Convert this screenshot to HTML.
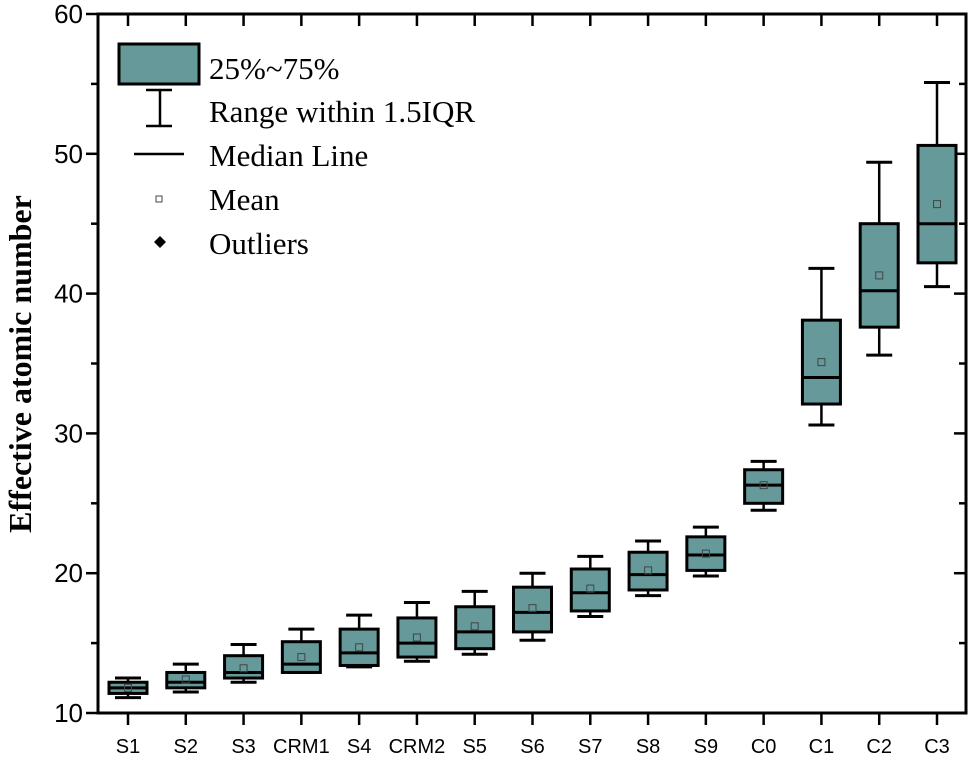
<!DOCTYPE html>
<html><head><meta charset="utf-8"><style>
body{margin:0;background:#fff}
svg{display:block}
</style></head><body>
<svg id="chart" width="969" height="758" xmlns="http://www.w3.org/2000/svg">
<g id="axes"></g>
<g id="boxes"></g>
<g id="legend">
<rect x="119" y="44" width="80" height="40" fill="#669999" stroke="#000" stroke-width="3"/>
<g stroke="#000" stroke-width="2.5"><line x1="160" y1="90" x2="160" y2="126"/><line x1="146" y1="90" x2="172" y2="90"/><line x1="146" y1="126" x2="172" y2="126"/></g>
<line x1="134" y1="154" x2="184" y2="154" stroke="#000" stroke-width="2.5"/>
<rect x="156" y="196" width="6" height="6" fill="#fff" stroke="#444" stroke-width="1"/>
<path d="M160 236 L166 242 L160 248 L154 242 Z" fill="#000"/>
<g font-family="'Liberation Serif',serif" font-size="31" fill="#000">
<text x="209" y="79">25%~75%</text>
<text x="209" y="122">Range within 1.5IQR</text>
<text x="209" y="166">Median Line</text>
<text x="209" y="210">Mean</text>
<text x="209" y="254">Outliers</text>
</g></g>
<text transform="translate(31,364) rotate(-90)" text-anchor="middle" font-family="'Liberation Serif',serif" font-weight="bold" font-size="32">Effective atomic number</text>
</svg>
<script>
const categories=["S1","S2","S3","CRM1","S4","CRM2","S5","S6","S7","S8","S9","C0","C1","C2","C3"];
const whiskerLow=[11.1,11.5,12.2,12.9,13.3,13.7,14.2,15.2,16.9,18.4,19.8,24.5,30.6,35.6,40.5];
const q1=[11.4,11.8,12.5,12.9,13.4,14.0,14.6,15.8,17.3,18.8,20.2,25.0,32.1,37.6,42.2];
const medians=[11.8,12.2,12.9,13.5,14.3,15.0,15.8,17.2,18.6,19.9,21.3,26.3,34.0,40.2,45.0];
const means=[11.8,12.4,13.2,14.0,14.7,15.4,16.2,17.5,18.9,20.2,21.4,26.3,35.1,41.3,46.4];
const q3=[12.2,12.9,14.1,15.1,16.0,16.8,17.6,19.0,20.3,21.5,22.6,27.4,38.1,45.0,50.6];
const whiskerHigh=[12.5,13.5,14.9,16.0,17.0,17.9,18.7,20.0,21.2,22.3,23.3,28.0,41.8,49.4,55.1];
const yTicks=[10,20,30,40,50,60];
const NS="http://www.w3.org/2000/svg";
const L=98,R=966,T=14,B=713,yMin=10,yMax=60;
function y(v){return B-(v-yMin)/(yMax-yMin)*(B-T);}
function x(i){return 128+i*(937-128)/(categories.length-1);}
function mk(tag,attrs,parent){const e=document.createElementNS(NS,tag);for(const k in attrs)e.setAttribute(k,attrs[k]);parent.appendChild(e);return e;}
const ax=document.getElementById('axes');
let f=mk('rect',{x:L,y:T,width:R-L,height:B-T,fill:'none',stroke:'#000','stroke-width':3},ax);


for(let v=10;v<=60;v+=5){
  const len=v%10===0?12:7;
  let t=mk('line',{x1:L-len,x2:L,y1:y(v),y2:y(v),stroke:'#000','stroke-width':2.5},ax);
  
  
  let t2=mk('line',{x1:R,x2:R-len,y1:y(v),y2:y(v),stroke:'#000','stroke-width':2.5},ax);
  
  
}
yTicks.forEach(v=>{
  let t=mk('text',{x:L-15,y:y(v)+9,'text-anchor':'end','font-family':"'Liberation Sans',sans-serif",'font-size':26},ax);
  t.textContent=v;
  
  
});
categories.forEach((c,i)=>{
  let t=mk('line',{x1:x(i),x2:x(i),y1:B,y2:B+12,stroke:'#000','stroke-width':2.5},ax);
  
  
  let t2=mk('line',{x1:x(i),x2:x(i),y1:T,y2:T+12,stroke:'#000','stroke-width':2.5},ax);
  
  
  let l=mk('text',{x:x(i),y:B+40,'text-anchor':'middle','font-family':"'Liberation Sans',sans-serif",'font-size':20},ax);
  l.textContent=c;
  
  
});
const bx=document.getElementById('boxes');
const hw=19,cw=13;
categories.forEach((c,i)=>{
  const g=mk('g',{},bx);
  
  
  const cx=x(i);
  mk('line',{x1:cx,x2:cx,y1:y(whiskerHigh[i]),y2:y(q3[i]),stroke:'#000','stroke-width':2.5},g);
  mk('line',{x1:cx,x2:cx,y1:y(q1[i]),y2:y(whiskerLow[i]),stroke:'#000','stroke-width':2.5},g);
  mk('line',{x1:cx-cw,x2:cx+cw,y1:y(whiskerHigh[i]),y2:y(whiskerHigh[i]),stroke:'#000','stroke-width':3},g);
  mk('line',{x1:cx-cw,x2:cx+cw,y1:y(whiskerLow[i]),y2:y(whiskerLow[i]),stroke:'#000','stroke-width':3},g);
  mk('rect',{x:cx-hw,y:y(q3[i]),width:2*hw,height:y(q1[i])-y(q3[i]),fill:'#669999',stroke:'#000','stroke-width':3},g);
  mk('line',{x1:cx-hw,x2:cx+hw,y1:y(medians[i]),y2:y(medians[i]),stroke:'#000','stroke-width':3},g);
  mk('rect',{x:cx-3.5,y:y(means[i])-3.5,width:7,height:7,fill:'none',stroke:'#444','stroke-width':1},g);
});
</script>
</body></html>
